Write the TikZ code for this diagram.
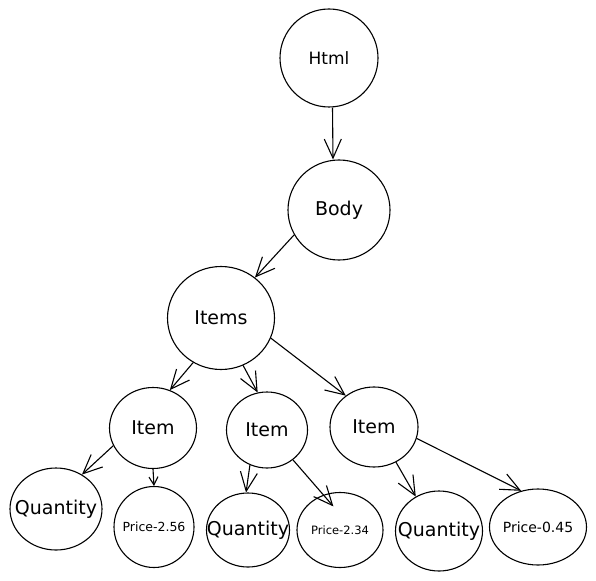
\documentclass[tikz,border=0pt]{standalone}
\usepackage{fontspec}
\setmainfont{DejaVu Sans}
\usetikzlibrary{arrows.meta,shapes.geometric}
\newcommand{\nodetext}[1]{\makebox[0pt]{#1}}

\begin{document}
\begin{tikzpicture}[x=1pt,y=-1pt,
  every node/.style={draw,ellipse,line width=1.1pt,inner sep=0pt,font=\fontsize{19}{22}\selectfont},
  dims/.style 2 args={minimum width=#1pt,minimum height=#2pt},
  link/.style={line width=1.1pt,-{Straight Barb[length=19pt,width=17pt]}},
  shortlink/.style={line width=1.1pt,-{Straight Barb[length=8pt,width=9pt]}}]
\fill[white] (0,0) rectangle (596,580);
\useasboundingbox (0,0) rectangle (596,580);

\node (html) [dims={98}{98},font=\fontsize{17}{20}\selectfont] at (329,58) {\nodetext{Html}};
\node (body) [dims={102}{100}] at (339,210) {\nodetext{Body}};
\node (items) [dims={107}{103}] at (221,318) {\nodetext{Items}};
\node (item1) [dims={87}{81}] at (153,428) {\nodetext{Item}};
\node (item2) [dims={81}{76}] at (267,430) {\nodetext{Item}};
\node (item3) [dims={88}{80}] at (374,427) {\nodetext{Item}};
\node (qty1) [dims={92}{82}] at (56,509) {\nodetext{Quantity}};
\node (price1) [dims={80}{81},font=\fontsize{12.5}{15}\selectfont] at (154,527) {\nodetext{Price-2.56}};
\node (qty2) [dims={83}{74}] at (248,530) {\nodetext{Quantity}};
\node (price2) [dims={86}{75},font=\fontsize{11.5}{14}\selectfont] at (340,530) {\nodetext{Price-2.34}};
\node (qty3) [dims={87}{80}] at (439,531) {\nodetext{Quantity}};
\node (price3) [dims={97}{76},font=\fontsize{14}{17}\selectfont] at (538,527) {\nodetext{Price-0.45}};

\draw[link] ([shift={(3.5,0)}]html.south) -- ([shift={(-6,0)}]body.north);
\draw[link] (body.209) -- (items.50);
\draw[link] (items.-122) -- (item1.66);
\draw[link] (items.-65) -- (item2.104);
\draw[link] (items.-22) -- (item3.132);
\draw[link] (item1.204) -- (qty1.53);
\draw[shortlink] (item1.south) -- (price1.north);
\draw[link] (item2.-116) -- (qty2.93);
\draw[link] (item2.-49) -- ([shift={(0,14)}]price2.100);
\draw[link] (item3.-58) -- (qty3.124);
\draw[link] (item3.-15) -- (price3.115);
\end{tikzpicture}
\end{document}
